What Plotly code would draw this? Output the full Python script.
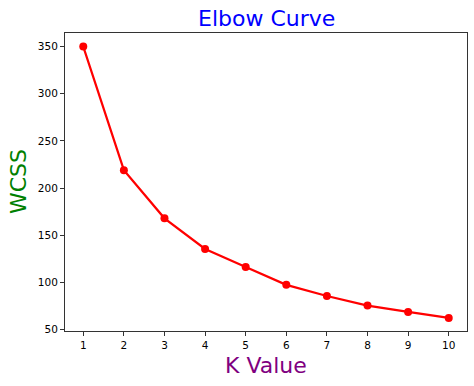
import plotly.graph_objects as go

k_values = [1, 2, 3, 4, 5, 6, 7, 8, 9, 10]
wcss = [350, 219, 168, 135.5, 116.5, 97.5, 85.7, 75.5, 68.8, 62.5]
x_ticks = [1, 2, 3, 4, 5, 6, 7, 8, 9, 10]
y_ticks = [50, 100, 150, 200, 250, 300, 350]

W, H = 474, 386
L, R, T, B = 65, 7, 33, 55

fig = go.Figure()
fig.add_trace(go.Scatter(
    x=k_values, y=wcss, mode="lines+markers",
    line=dict(color="red", width=2.2),
    marker=dict(color="red", size=8),
    showlegend=False,
))

axis_common = dict(
    showline=True, linecolor="#333333", linewidth=1, mirror=True,
    ticks="outside", ticklen=4, tickcolor="#333333", tickwidth=1,
    showgrid=False, zeroline=False, automargin=False,
    tickfont=dict(family="DejaVu Sans", size=10.5, color="black"),
)

fig.update_layout(
    width=W, height=H,
    margin=dict(l=L, r=R, t=T, b=B, autoexpand=False),
    paper_bgcolor="white", plot_bgcolor="white",
    font=dict(family="DejaVu Sans"),
    hovermode=False,
    xaxis=dict(range=[0.55, 10.45], tickvals=x_ticks, **axis_common),
    yaxis=dict(range=[48.6, 364.4], tickvals=y_ticks, **axis_common),
    annotations=[
        dict(text="Elbow Curve", xref="paper", yref="paper", x=0.5, y=1,
             xanchor="center", yanchor="middle", yshift=T - 18, showarrow=False,
             font=dict(family="DejaVu Sans", size=22, color="blue")),
        dict(text="K Value", xref="paper", yref="paper", x=0.5, y=0,
             xanchor="center", yanchor="middle", yshift=-(365 - (H - B)), showarrow=False,
             font=dict(family="DejaVu Sans", size=22, color="purple")),
        dict(text="WCSS", xref="paper", yref="paper", x=0, y=0.5, textangle=-90,
             xanchor="center", yanchor="middle", xshift=-(L - 18), showarrow=False,
             font=dict(family="DejaVu Sans", size=22, color="green")),
    ],
)

fig.write_html(
    "out.html",
    config={"displayModeBar": False, "staticPlot": True},
    post_script="document.body.style.margin='0';document.body.style.overflow='hidden';",
)
